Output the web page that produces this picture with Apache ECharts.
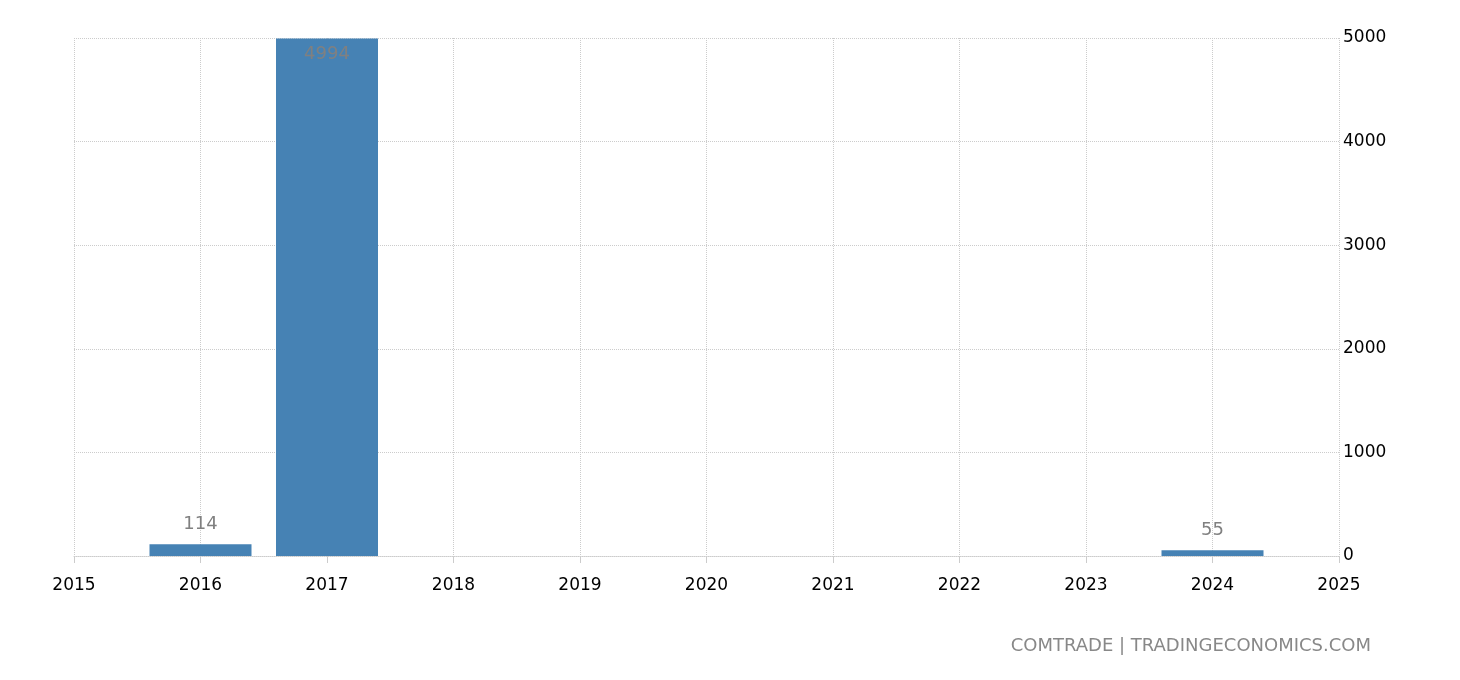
<!DOCTYPE html>
<html>
<head>
<meta charset="utf-8">
<script src="https://cdn.jsdelivr.net/npm/echarts@6/dist/echarts.min.js"></script>
<style>
  html, body { margin: 0; padding: 0; background: #fff; }
  #container { width: 1460px; height: 680px; }
</style>
</head>
<body>
<div id="container"></div>
<script>
var years = [2016, 2017, 2024];
var values = [114, 4994, 55];
var yTicks = [0, 1000, 2000, 3000, 4000, 5000];

var dom = document.getElementById("container");
var myChart = echarts.init(dom);

var barData = [];
for (var i = 0; i < years.length; i++) {
    var item = { value: [years[i], values[i]] };
    // the tall bar keeps its label inside
    if (values[i] > 4000) {
        item.label = { position: 'insideTop', distance: 7 };
    }
    barData.push(item);
}

var fontFamily = "DejaVu Sans, Verdana, sans-serif";

var option = {
    animation: false,
    backgroundColor: '#fff',
    grid: { left: 74, right: 121, top: 38, bottom: 124 },
    xAxis: {
        type: 'value',
        min: 2015,
        max: 2025,
        interval: 1,
        axisLine: { show: true, lineStyle: { color: '#ccc', type: 'dotted' } },
        axisTick: { show: true, length: 7, lineStyle: { color: '#ccc' } },
        axisLabel: {
            color: '#000', fontSize: 17, fontFamily: fontFamily, margin: 21,
            formatter: function (v) { return String(v); }
        },
        splitLine: { show: true, lineStyle: { color: '#ccc', type: 'dotted' } }
    },
    yAxis: {
        type: 'value',
        position: 'right',
        min: yTicks[0],
        max: yTicks[yTicks.length - 1],
        interval: 1000,
        axisLine: { show: false },
        axisTick: { show: false },
        axisLabel: {
            color: '#000', fontSize: 17, fontFamily: fontFamily, margin: 4,
            padding: [4, 0, 0, 0],
            formatter: function (v) { return String(v); }
        },
        splitLine: { show: true, lineStyle: { color: '#ccc', type: 'dotted' } }
    },
    series: [{
        type: 'bar',
        data: barData,
        barWidth: 102,
        itemStyle: { color: '#4682b4' },
        label: {
            show: true,
            position: 'top',
            distance: 11,
            color: '#808080',
            fontSize: 18,
            fontFamily: fontFamily
        }
    }],
    graphic: [{
        type: 'text',
        right: 89,
        top: 637,
        style: {
            text: 'COMTRADE | TRADINGECONOMICS.COM',
            fill: '#888',
            fontSize: 18,
            fontFamily: fontFamily
        }
    }]
};

myChart.setOption(option);
</script>
</body>
</html>
